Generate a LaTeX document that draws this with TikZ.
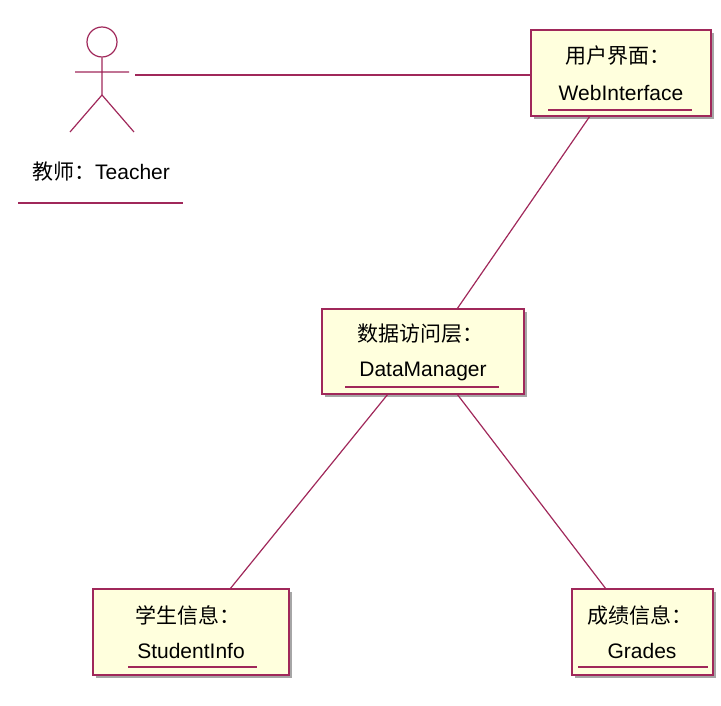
\documentclass[tikz,border=0pt]{standalone}
\usepackage{fontspec}
\setmainfont{Liberation Sans}
\newfontfamily\cjk{Noto Sans CJK SC}
\usetikzlibrary{shadows}
\definecolor{umlline}{HTML}{A0285A}
\definecolor{umlfill}{HTML}{FFFFDD}
\tikzset{
  objbox/.style={draw=umlline, line width=1.2pt, fill=umlfill, inner sep=0pt,
    drop shadow={shadow xshift=3pt, shadow yshift=-3pt, fill=gray!70, opacity=1}},
  lbl/.style={font=\fontsize{21}{24}\selectfont, inner sep=0pt},
  link/.style={draw=umlline, line width=1.2pt},
  uline/.style={draw=umlline, line width=1.5pt}
}
\begin{document}
\begin{tikzpicture}[x=1pt,y=-1pt]
\useasboundingbox (0,0) rectangle (721,706);
% boxes
\node[objbox, minimum width=180pt, minimum height=86pt] (web) at (621,73) {};
\node[objbox, minimum width=202pt, minimum height=85pt] (dm) at (423,351.5) {};
\node[objbox, minimum width=196pt, minimum height=86pt] (si) at (191,632) {};
\node[objbox, minimum width=141pt, minimum height=86pt] (gr) at (642.5,632) {};
% texts
\node[lbl] (webt1) at (618,56) {\cjk 用户界面：};
\node[lbl] (webt2) at (621,93) {WebInterface};
\draw[uline] (548,110) -- (692,110);
\node[lbl] (dmt1) at (420,334) {\cjk 数据访问层：};
\node[lbl] (dmt2) at (423,371) {DataManager};
\draw[uline] (345,387) -- (499,387);
\node[lbl] (sit1) at (188,615) {\cjk 学生信息：};
\node[lbl] (sit2) at (191,651) {StudentInfo};
\draw[uline] (128,667) -- (257,667);
\node[lbl] (grt1) at (640,615) {\cjk 成绩信息：};
\node[lbl] (grt2) at (642,651) {Grades};
\draw[uline] (578,667) -- (708,667);
% actor
\node[draw=umlline, line width=1.2pt, circle, minimum size=30pt, inner sep=0pt] (head) at (102,42) {};
\coordinate (hip) at (102,95);
\coordinate (armL) at (75,72);
\coordinate (armR) at (129,72);
\coordinate (legL) at (70,132);
\coordinate (legR) at (134,132);
\draw[link] (head.south) -- (hip) (armL) -- (armR) (legL) -- (hip) -- (legR);
\node[lbl] (teacher) at (101,172) {{\cjk 教师：}Teacher};
\draw[uline] (18,203) -- (183,203);
\coordinate (actorR) at (135,75);
% links
\draw[link] (actorR) -- (web.west |- actorR);
\draw[link] (590,116) -- (457,309);
\draw[link] (388,394) -- (230,589);
\draw[link] (457,394) -- (606,589);
\end{tikzpicture}
\end{document}
